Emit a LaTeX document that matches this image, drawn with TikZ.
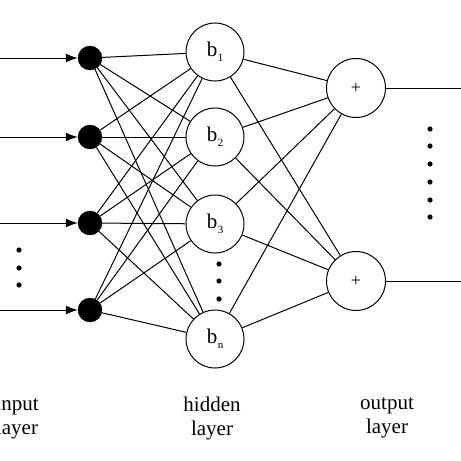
\documentclass[tikz,border=0pt]{standalone}
\usepackage{fontspec}
\setmainfont{Liberation Serif}
\usetikzlibrary{arrows.meta}
\newcommand\bsub[1]{\kern0.5pt\raisebox{-5pt}{\fontsize{11}{11}\selectfont #1}}

\begin{document}
\begin{tikzpicture}[x=1pt,y=-1pt,
  ip/.style={circle,fill=black,draw=black,minimum size=24pt,inner sep=0pt},
  hd/.style={circle,draw=black,fill=white,line width=1pt,minimum size=58pt,inner sep=0pt,font=\fontsize{21}{21}\selectfont},
  op/.style={circle,draw=black,fill=white,line width=1pt,minimum size=59pt,inner sep=0pt,font=\fontsize{18}{18}\selectfont},
  ln/.style={black,line width=1pt},
  ar/.style={-{Latex[length=12pt,width=9pt]},black,line width=1pt},
  dt/.style={fill=black},
  lb/.style={align=center,inner sep=0pt,font=\fontsize{21}{24}\selectfont}]
\useasboundingbox (0,0) rectangle (461,461);
\clip (0,0) rectangle (461,461);
% input layer
\node[ip] (i1) at (90,58) {};
\node[ip] (i2) at (90,137) {};
\node[ip] (i3) at (90,223) {};
\node[ip] (i4) at (90,310) {};
% hidden layer
\node[hd] (h1) at (215,52) {b\bsub{1}};
\node[hd] (h2) at (215,137) {b\bsub{2}};
\node[hd] (h3) at (215,224) {b\bsub{3}};
\node[hd] (hn) at (215,339) {b\bsub{n}};
% output layer
\node[op] (o1) at (356,88) {+};
\node[op] (o2) at (356,281) {+};
% free ends
\coordinate (a1) at (0,58); \coordinate (a2) at (0,137);
\coordinate (a3) at (0,223); \coordinate (a4) at (0,310);
\coordinate (e1) at (461,88); \coordinate (e2) at (461,281);
\draw[ar] (a1)--(i1); \draw[ar] (a2)--(i2); \draw[ar] (a3)--(i3); \draw[ar] (a4)--(i4);
\draw[ln] (i1)--(h1); \draw[ln] (i1)--(h2); \draw[ln] (i1)--(h3); \draw[ln] (i1)--(hn);
\draw[ln] (i2)--(h1); \draw[ln] (i2)--(h2); \draw[ln] (i2)--(h3); \draw[ln] (i2)--(hn);
\draw[ln] (i3)--(h1); \draw[ln] (i3)--(h2); \draw[ln] (i3)--(h3); \draw[ln] (i3)--(hn);
\draw[ln] (i4)--(h1); \draw[ln] (i4)--(h2); \draw[ln] (i4)--(h3); \draw[ln] (i4)--(hn);
\draw[ln] (h1)--(o1); \draw[ln] (h1)--(o2); \draw[ln] (h2)--(o1); \draw[ln] (h2)--(o2);
\draw[ln] (h3)--(o1); \draw[ln] (h3)--(o2); \draw[ln] (hn)--(o1); \draw[ln] (hn)--(o2);
\draw[ln] (o1)--(e1); \draw[ln] (o2)--(e2);
% ellipsis dots
\fill[dt] (19,250) circle (2.6) (19,268) circle (2.6) (19,285) circle (2.6);
\fill[dt] (219,264) circle (2.6) (219,281) circle (2.6) (219,299) circle (2.6);
\fill[dt] (430,129) circle (2.6) (430,146) circle (2.6) (430,164) circle (2.6)
  (430,182) circle (2.6) (430,200) circle (2.6) (430,217) circle (2.6);
% labels
\node[lb] (lin) at (17,418) {input\\layer};
\node[lb] (lhd) at (212,418) {hidden\\layer};
\node[lb] (lout) at (387,418) {output\\layer};
\end{tikzpicture}
\end{document}
